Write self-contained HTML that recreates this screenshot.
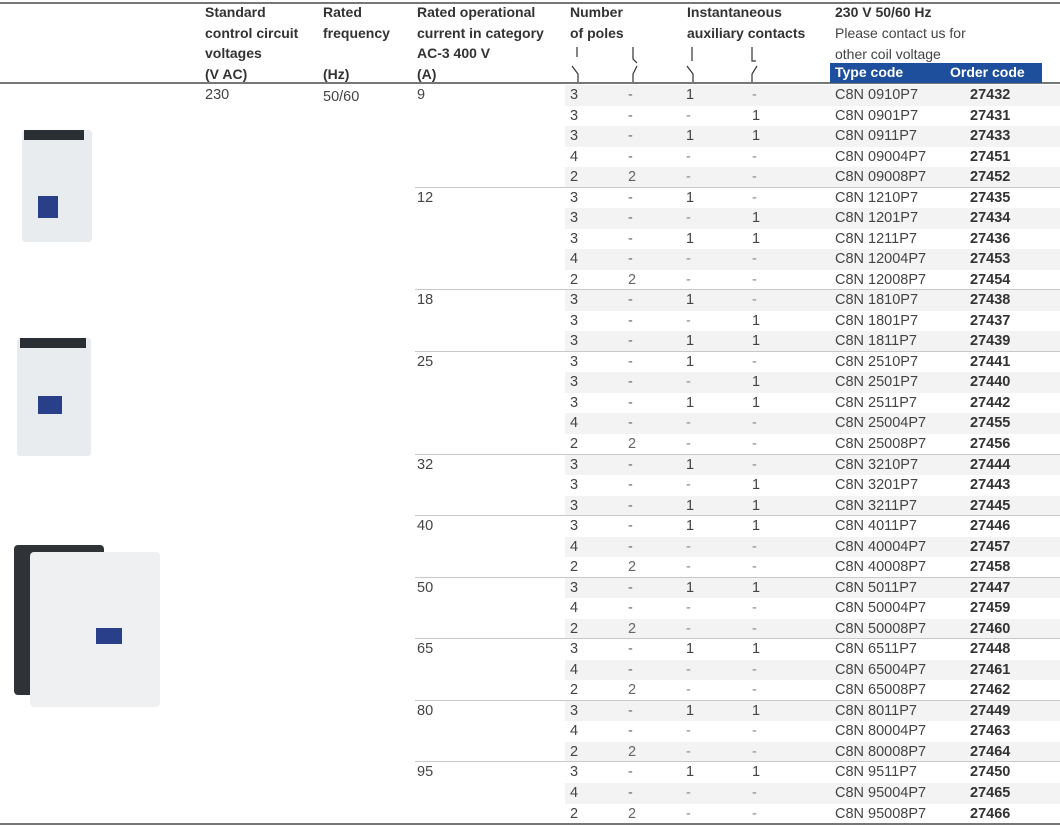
<!DOCTYPE html>
<html><head><meta charset="utf-8"><style>
*{margin:0;padding:0;box-sizing:border-box}
body{width:1060px;height:826px;background:#fff;position:relative;overflow:hidden;font-family:"Liberation Sans",sans-serif;font-size:14px;color:#333}
.a{position:absolute;white-space:nowrap}
.h{font-weight:bold;color:#333;line-height:20.5px}
.r{position:absolute;left:565px;width:495px;height:20.53px;line-height:20.5px;font-size:14.5px;color:#444}
.r.s{background:#f3f3f3}
.r span{position:absolute;top:0}
.r .c1{left:5px}.r .c2{left:63px;color:#666}.r .c3{left:121px}.r .c4{left:187px}
.r .c5{left:270px}.r .c6{left:405px;font-weight:bold;color:#333}
.g{position:absolute;left:415px;width:645px;height:1px;background:#c8c8c8}
.d{color:#888}
</style></head><body>
<div class="a" style="left:0;top:2px;width:1060px;height:2px;background:#777"></div>
<div class="a" style="left:0;top:82px;width:1060px;height:2px;background:#777"></div>
<div class="a h" style="left:205px;top:2px">Standard<br>control circuit<br>voltages<br>(V AC)</div>
<div class="a h" style="left:323px;top:2px">Rated<br>frequency<br><br>(Hz)</div>
<div class="a h" style="left:417px;top:2px">Rated operational<br>current in category<br>AC-3 400 V<br>(A)</div>
<div class="a h" style="left:570px;top:2px">Number<br>of poles</div>
<div class="a h" style="left:687px;top:2px">Instantaneous<br>auxiliary contacts</div>
<div class="a h" style="left:835px;top:2px">230 V 50/60 Hz</div>
<div class="a" style="left:835px;top:23px;line-height:20.5px;color:#444">Please contact us for<br>other coil voltage</div>
<div class="a" style="left:830px;top:63px;width:212px;height:20px;background:#1e4f9c;color:#fff;font-weight:bold;line-height:19px"><span style="position:absolute;left:5px">Type code</span><span style="position:absolute;left:120px">Order code</span></div>
<svg class="a" style="left:565px;top:44px" width="240" height="40" stroke="#333" fill="none" stroke-width="1.2">
<path d="M12 3v10M7 22l6 8v8"/><path d="M68 3v12l4 4M72 22l-4 8v8"/><path d="M127 3v14M122 22l6 8v8"/><path d="M187 3v14h4M192 22l-5 8v8"/></svg>
<div class="a" style="left:205px;top:85px;line-height:20.5px;font-size:14.5px;color:#444">230</div>
<div class="a" style="left:323px;top:87px;line-height:20.5px;font-size:14.5px;color:#444">50/60</div>
<div id="rows"></div>
<div class="a" style="left:22px;top:130px;width:70px;height:112px;background:#e9ecef;border-radius:3px"></div>
<div class="a" style="left:24px;top:130px;width:60px;height:10px;background:#2a2f35"></div>
<div class="a" style="left:38px;top:196px;width:20px;height:22px;background:#2a3f8a"></div>
<div class="a" style="left:17px;top:338px;width:74px;height:118px;background:#e9ecef;border-radius:3px"></div>
<div class="a" style="left:20px;top:338px;width:66px;height:10px;background:#2a2f35"></div>
<div class="a" style="left:38px;top:396px;width:24px;height:18px;background:#2a3f8a"></div>
<div class="a" style="left:14px;top:545px;width:90px;height:150px;background:#2f3337;border-radius:4px"></div>
<div class="a" style="left:30px;top:552px;width:130px;height:155px;background:#eef0f2;border-radius:4px"></div>
<div class="a" style="left:96px;top:628px;width:26px;height:16px;background:#2a3f8a"></div>
<script>
var d=[["9",[["3","-","1","-","C8N 0910P7","27432"],["3","-","-","1","C8N 0901P7","27431"],["3","-","1","1","C8N 0911P7","27433"],["4","-","-","-","C8N 09004P7","27451"],["2","2","-","-","C8N 09008P7","27452"]]],
["12",[["3","-","1","-","C8N 1210P7","27435"],["3","-","-","1","C8N 1201P7","27434"],["3","-","1","1","C8N 1211P7","27436"],["4","-","-","-","C8N 12004P7","27453"],["2","2","-","-","C8N 12008P7","27454"]]],
["18",[["3","-","1","-","C8N 1810P7","27438"],["3","-","-","1","C8N 1801P7","27437"],["3","-","1","1","C8N 1811P7","27439"]]],
["25",[["3","-","1","-","C8N 2510P7","27441"],["3","-","-","1","C8N 2501P7","27440"],["3","-","1","1","C8N 2511P7","27442"],["4","-","-","-","C8N 25004P7","27455"],["2","2","-","-","C8N 25008P7","27456"]]],
["32",[["3","-","1","-","C8N 3210P7","27444"],["3","-","-","1","C8N 3201P7","27443"],["3","-","1","1","C8N 3211P7","27445"]]]];
[["40","27446","27457","27458"],["50","27447","27459","27460"],["65","27448","27461","27462"],["80","27449","27463","27464"],["95","27450","27465","27466"]].forEach(function(x){var n=x[0];
d.push([x[0],[["3","-","1","1","C8N "+n+"11P7",x[1]],["4","-","-","-","C8N "+n+"004P7",x[2]],["2","2","-","-","C8N "+n+"008P7",x[3]]]]);});
var h="",i=0,H=20.53;
d.forEach(function(g){var t=85+i*H;
if(i>0)h+='<div class="g" style="top:'+(t-1)+'px"></div>';
h+='<div class="a" style="left:417px;top:'+t+'px;line-height:20.5px;font-size:14.5px;color:#444">'+g[0]+'</div>';
g[1].forEach(function(r){var y=85+i*H;
h+='<div class="r'+(i%2==0?' s':'')+'" style="top:'+y+'px">';
for(var k=0;k<6;k++){h+='<span class="c'+(k+1)+(r[k]=="-"?' d':'')+'">'+r[k]+'</span>';}
h+='</div>';i++;});});
h+='<div class="a" style="left:0;top:823px;width:1060px;height:2px;background:#777"></div>';
document.getElementById("rows").outerHTML=h;
</script>
</body></html>
